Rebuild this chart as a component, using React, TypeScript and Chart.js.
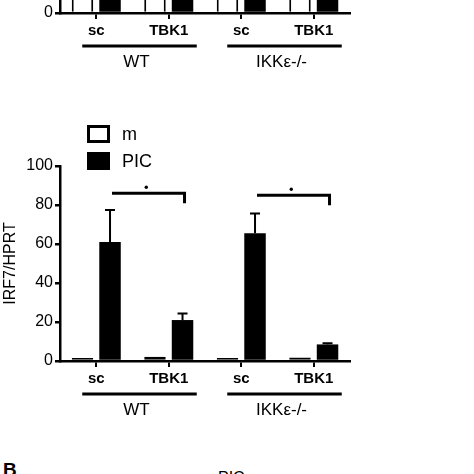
import { useEffect, useRef } from "react";
import { Chart, registerables } from "chart.js";

Chart.register(...registerables);

const FONT = "'Liberation Sans', Arial, Helvetica, sans-serif";

// x categories and groups
const knockdown = ["sc", "TBK1", "sc", "TBK1"];
const genotypes = ["WT", "IKKε-/-"];
const seriesNames = ["m", "PIC"];

// lower panel: IRF7/HPRT
const irf7Mock = [1.5, 2.2, 1.5, 1.8];
const irf7Pic = [61, 21, 65.5, 8.5];
const irf7PicErr = [16.5, 3.3, 10.2, 0.6];
const irf7Ticks = [0, 20, 40, 60, 80, 100];

// upper panel, only its baseline is inside the frame
const upperMock = [35, 30, 40, 33];
const upperPic = [85, 55, 90, 60];
const upperTicks = [0, 20, 40, 60, 80, 100];

// significance brackets: PIC bar pairs and the level of the bar
const sigPairs = [
  [0, 1],
  [2, 3],
];
const sigLevels = [86, 85];

const decor = {
  id: "decor",
  afterDatasetsDraw(chart: any, _args: any, opts: any) {
    const { ctx, chartArea, scales } = chart;
    const x = scales.x;
    const y = scales.y;
    ctx.save();
    ctx.strokeStyle = "#000";
    ctx.fillStyle = "#000";

    // error bars (upper half only)
    chart.data.datasets.forEach((ds: any, di: number) => {
      if (!ds.errors) return;
      chart.getDatasetMeta(di).data.forEach((bar: any, i: number) => {
        const e = ds.errors[i];
        if (!e) return;
        const y1 = y.getPixelForValue(ds.data[i] + e);
        ctx.lineWidth = 2;
        ctx.beginPath();
        ctx.moveTo(bar.x, bar.y);
        ctx.lineTo(bar.x, y1);
        ctx.moveTo(bar.x - 5, y1);
        ctx.lineTo(bar.x + 5, y1);
        ctx.stroke();
      });
    });

    // significance brackets
    if (opts.brackets) {
      const pic = chart.getDatasetMeta(1).data;
      sigPairs.forEach(([a, b], k) => {
        const x1 = pic[a].x + 2;
        const x2 = pic[b].x + 2;
        const yb = y.getPixelForValue(sigLevels[k]);
        ctx.lineWidth = 3;
        ctx.beginPath();
        ctx.moveTo(x1, yb);
        ctx.lineTo(x2, yb);
        ctx.lineTo(x2, yb + 10);
        ctx.stroke();
        ctx.beginPath();
        ctx.arc((x1 + x2) / 2 - 2, yb - 6, 1.7, 0, Math.PI * 2);
        ctx.fill();
      });
    }

    // genotype groups under the axis
    genotypes.forEach((g, k) => {
      const c1 = x.getPixelForValue(k * 2);
      const c2 = x.getPixelForValue(k * 2 + 1);
      ctx.lineWidth = 3;
      ctx.beginPath();
      ctx.moveTo(c1 - 14, chartArea.bottom + 33);
      ctx.lineTo(c2 + 28, chartArea.bottom + 33);
      ctx.stroke();
      ctx.font = `17px ${FONT}`;
      ctx.textAlign = "center";
      ctx.textBaseline = "middle";
      ctx.fillText(g, (c1 + c2) / 2 + 4, chartArea.bottom + 49);
    });

    // legend
    if (opts.legend) {
      chart.data.datasets.forEach((ds: any, di: number) => {
        const bx = chartArea.left + 27;
        const by = chartArea.top - 41 + di * 27;
        ctx.fillStyle = ds.backgroundColor;
        ctx.fillRect(bx, by, 23, 18);
        ctx.lineWidth = 3;
        ctx.strokeStyle = "#000";
        ctx.strokeRect(bx + 1.5, by + 1.5, 20, 15);
        ctx.fillStyle = "#000";
        ctx.font = `18px ${FONT}`;
        ctx.textAlign = "left";
        ctx.textBaseline = "middle";
        ctx.fillText(ds.label, bx + 35, by + 10);
      });
    }
    ctx.restore();
  },
};

interface PanelProps {
  top: number;
  mock: number[];
  pic: number[];
  picErr?: number[];
  ticks: number[];
  yTitle?: string;
  legend: boolean;
  brackets: boolean;
}

const W = 474;
const H = 320;

const Panel = ({ top, mock, pic, picErr, ticks, yTitle, legend, brackets }: PanelProps) => {
  const canvasRef = useRef<HTMLCanvasElement>(null);

  useEffect(() => {
    if (!canvasRef.current) return;
    // near-zero mock bars read as solid flat marks, tall ones stay open at the base
    const flatMock = mock.every((v) => v < 5);
    const chart = new Chart(canvasRef.current, {
      type: "bar",
      data: {
        labels: knockdown,
        datasets: [
          {
            label: seriesNames[0],
            data: mock,
            backgroundColor: "#fff",
            borderColor: "#000",
            borderWidth: 2,
            borderSkipped: flatMock ? false : "start",
            categoryPercentage: 0.76,
            barPercentage: 0.78,
          },
          {
            label: seriesNames[1],
            data: pic,
            backgroundColor: "#000",
            borderColor: "#000",
            borderWidth: 0,
            categoryPercentage: 0.76,
            barPercentage: 0.78,
            // @ts-ignore
            errors: picErr,
          },
        ],
      },
      options: {
        responsive: false,
        animation: false,
        layout: { padding: { top: 56, right: 124, bottom: 0, left: 0 } },
        plugins: {
          legend: { display: false },
          tooltip: { enabled: false },
          // @ts-ignore
          decor: { legend, brackets },
        },
        scales: {
          x: {
            afterFit: (s: any) => {
              s.height = 69;
            },
            grid: {
              display: true,
              drawOnChartArea: false,
              offset: false,
              tickLength: 6,
              lineWidth: 2,
              color: "#000",
            },
            border: { display: true, color: "#000", width: 2.5 },
            ticks: {
              color: "#000",
              font: { family: FONT, size: 15, weight: "bold" },
              padding: 3,
              maxRotation: 0,
              autoSkip: false,
            },
          },
          y: {
            min: 0,
            max: 100,
            afterFit: (s: any) => {
              s.width = 60;
            },
            afterBuildTicks: (s: any) => {
              s.ticks = ticks.map((v) => ({ value: v }));
            },
            grid: {
              display: true,
              drawOnChartArea: false,
              tickLength: 5,
              lineWidth: 2.5,
              color: "#000",
            },
            border: { display: true, color: "#000", width: 2.5 },
            ticks: {
              color: "#000",
              font: { family: FONT, size: 16 },
              padding: 2,
            },
            title: {
              display: !!yTitle,
              text: yTitle,
              color: "#000",
              font: { family: FONT, size: 16 },
              padding: { top: 1, bottom: 0 },
            },
          },
        },
      },
      plugins: [decor],
    });
    return () => chart.destroy();
  }, [top, mock, pic, picErr, ticks, yTitle, legend, brackets]);

  return (
    <canvas
      ref={canvasRef}
      width={W}
      height={H}
      style={{ position: "absolute", left: 0, top, width: W, height: H }}
    />
  );
};

export default function App() {
  return (
    <div
      style={{
        position: "fixed",
        left: 0,
        top: 0,
        width: 474,
        height: 474,
        overflow: "hidden",
        background: "#fff",
        fontFamily: FONT,
      }}
    >
      <Panel top={-238} mock={upperMock} pic={upperPic} ticks={upperTicks} legend={false} brackets={false} />
      <Panel
        top={110}
        mock={irf7Mock}
        pic={irf7Pic}
        picErr={irf7PicErr}
        ticks={irf7Ticks}
        yTitle="IRF7/HPRT"
        legend={true}
        brackets={true}
      />
      <div style={{ position: "absolute", left: 3, top: 460, fontSize: 19, fontWeight: "bold", lineHeight: 1 }}>B</div>
      <div style={{ position: "absolute", left: 218, top: 470, fontSize: 16, lineHeight: 1 }}>PIC</div>
    </div>
  );
}
